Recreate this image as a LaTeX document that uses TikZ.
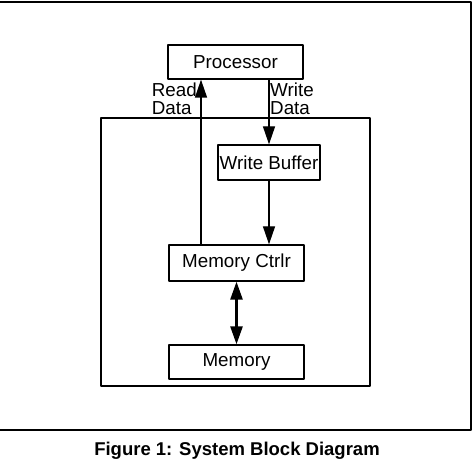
\documentclass[tikz,border=0pt]{standalone}
\usepackage{fontspec}
\setmainfont{Liberation Sans}
\usetikzlibrary{arrows.meta}
\tikzset{
  blk/.style={draw=black,rectangle,line width=1.3bp,inner sep=0pt,
    minimum width=135bp,minimum height=35bp,font=\fontsize{18.8bp}{18bp}\selectfont},
  lbl/.style={inner sep=0pt,align=left,font=\fontsize{18.8bp}{18bp}\selectfont},
}
\begin{document}
\begin{tikzpicture}[>={Triangle[length=18bp,width=12bp]},line join=bevel,]
    %%
    \useasboundingbox (0bp,0bp) rectangle (474bp,459bp);
    \draw [line width=2.5bp] (-3bp,457bp) -- (471bp,457bp) -- (471bp,29bp) -- (-3bp,29bp);
    \node (sys) at (235.5bp,207bp) [blk,minimum width=269bp,minimum height=268bp] {};
    \node (proc) at (235.5bp,397bp) [blk,minimum height=34bp] {Processor};
    \node (wbuf) at (269bp,296.5bp) [blk,minimum width=102bp] {Write Buffer};
    \node (mctl) at (236.5bp,196bp) [blk,minimum height=36bp] {Memory Ctrlr};
    \node (mem) at (236.5bp,97bp) [blk,minimum height=34bp] {Memory};
    \coordinate (rd) at (201bp,0bp);
    \draw [->,line width=1.3bp] (mctl.north -| rd) -- (proc.south -| rd);
    \draw [->,line width=1.3bp] (proc.south -| wbuf) -- (wbuf.north);
    \draw [->,line width=1.3bp] (wbuf.south) -- (mctl.north -| wbuf);
    \draw [<->,line width=2.6bp] (mctl.south -| mem) -- (mem.north);
    \node (rdlbl) at (197bp,376bp) [lbl,anchor=north east] {Read\\Data};
    \node (wrlbl) at (270bp,376bp) [lbl,anchor=north west] {Write\\Data};
    \node (cap) at (237bp,4bp) [anchor=base,inner sep=0pt,
      font=\fontsize{18.5bp}{18.5bp}\selectfont\bfseries] {Figure 1: System Block Diagram};
    %
\end{tikzpicture}
\end{document}
